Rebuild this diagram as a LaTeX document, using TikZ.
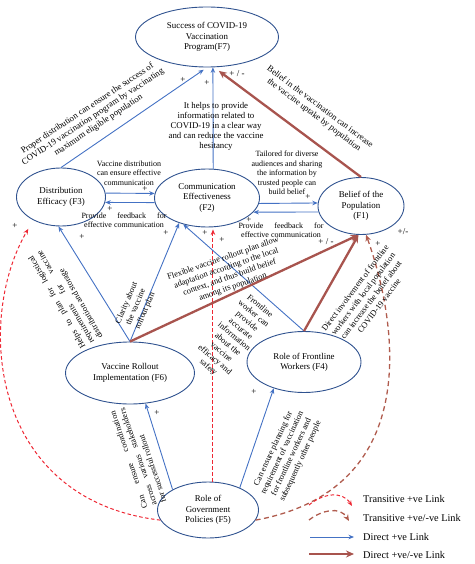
\documentclass[tikz,border=0pt]{standalone}
\usepackage{fontspec}
\setmainfont{Liberation Serif}
\usetikzlibrary{shapes.geometric,arrows.meta,calc}
\definecolor{nodeblue}{RGB}{47,82,143}
\definecolor{linkblue}{RGB}{68,114,196}
\definecolor{linkbrown}{RGB}{168,84,78}
\definecolor{linkred}{RGB}{238,40,52}
\definecolor{dashbrown}{RGB}{176,92,78}
\newcommand\jline[2]{\makebox[#1][s]{#2}}
\begin{document}
\begin{tikzpicture}[x=1pt,y=-1pt,
  fac/.style={ellipse, draw=nodeblue, line width=0.9pt, inner sep=0pt, align=center, font=\fontsize{8.9}{10.3}\selectfont},
  lbl/.style={align=center, inner sep=0pt, font=\fontsize{8.4}{10}\selectfont},
  lbll/.style={align=left, inner sep=0pt, font=\fontsize{8.4}{10}\selectfont},
  sgn/.style={inner sep=0pt, font=\fontsize{9}{10}\selectfont},
  lgd/.style={anchor=west, inner sep=0pt, font=\fontsize{10.3}{12}\selectfont},
  bluelink/.style={draw=linkblue, line width=0.9pt, -{Stealth[length=5.5pt,width=4.5pt]}},
  brownlink/.style={draw=linkbrown, line width=2.3pt, -{Stealth[length=8pt,width=7pt]}},
  reddash/.style={draw=linkred, line width=1pt, dash pattern=on 3.5pt off 2.5pt, -{Stealth[length=5.5pt,width=4.5pt]}},
  browndash/.style={draw=dashbrown, line width=1.3pt, dash pattern=on 5pt off 3.5pt, -{Stealth[length=6.5pt,width=5.5pt]}}
]
\useasboundingbox (0,0) rectangle (474,564);

% factors
\node[fac, minimum width=143pt, minimum height=60pt] (F7) at (207,37) {Success of COVID-19\\Vaccination\\Program(F7)};
\node[fac, minimum width=89pt, minimum height=58pt] (F3) at (61,197) {Distribution\\Efficacy (F3)};
\node[fac, minimum width=105pt, minimum height=58pt] (F2) at (207,198) {Communication\\Effectiveness\\(F2)};
\node[fac, minimum width=86pt, minimum height=57pt] (F1) at (361,206) {Belief of the\\Population\\(F1)};
\node[fac, minimum width=129pt, minimum height=62pt] (F6) at (130,373) {Vaccine Rollout\\Implementation (F6)};
\node[fac, minimum width=114pt, minimum height=61pt] (F4) at (304,362) {Role of Frontline\\Workers (F4)};
\node[fac, minimum width=101pt, minimum height=56pt] (F5) at (208,510) {Role of\\Government\\Policies (F5)};

% transitive links
\draw[reddash, shorten >=10pt] (F5.192) .. controls (-10,500) and (-25,320) .. (F3.-140);
\draw[browndash] (F5.-12) .. controls (420,490) and (400,330) .. (F1.-80);
\draw[reddash, shorten >=2pt] (F5.80) -- (F5.80 |- F2.south);

% direct links
\draw[bluelink, shorten >=4pt] (F3.north) -- (F7.south);
\draw[bluelink] (F2.78) -- (F7.-79);
\draw[brownlink, shorten >=6pt] (F1.north) -- (F7.-77);
\draw[bluelink] (F3.5) -- (F2.175);
\draw[bluelink] (F2.185) -- (F3.-7);
\draw[bluelink] (F2.-6) -- (F1.176);
\draw[bluelink] (F1.188) -- (F2.-17);
\draw[bluelink] (F6.north) -- (F3.-95);
\draw[bluelink] (F6.north) -- (F2.222);
\draw[bluelink] (F4.north) -- (F2.228);
\draw[brownlink] (F6.north) -- (F1.-95);
\draw[brownlink] (F4.north) -- (F1.-95);
\draw[bluelink] (F5.150) -- (F6.-63);
\draw[bluelink] (F5.35) -- (F4.221);

% link labels
\node[lbl, rotate=33.5, font=\fontsize{8.8}{10}\selectfont] (t1) at (93,117) {Proper distribution can ensure the success of\\COVID-19 vaccination program by vaccinating\\maximum eligible population};
\node[lbl, font=\fontsize{8.8}{10}\selectfont] (t2) at (216,126) {It helps to provide\\information related to\\COVID-19 in a clear way\\and can reduce the vaccine\\hesitancy};
\node[lbl, rotate=-37, font=\fontsize{8.7}{10}\selectfont] (t3) at (317,111) {Belief in the vaccination can increase\\the vaccine uptake by population};
\node[lbl, font=\fontsize{8}{9.4}\selectfont] (t4) at (129,173) {Vaccine distribution\\can ensure effective\\communication};
\node[lbl, font=\fontsize{8}{9.4}\selectfont] (t5) at (124,220) {\jline{85pt}{Provide feedback for}\\effective communication};
\node[lbl, font=\fontsize{8}{9.6}\selectfont] (t6) at (287,173) {Tailored for diverse\\audiences and sharing\\the information by\\trusted people can\\build belief};
\node[lbl, font=\fontsize{8}{9.4}\selectfont] (t7) at (281,230) {\jline{85pt}{Provide feedback for}\\effective communication};
\node[lbll, rotate=120] (t8) at (66,297) {\jline{106pt}{Helps to plan for logistical}\\\jline{106pt}{requirements for vaccine}\\distribution and storage};
\node[lbl, rotate=66.7] (t9) at (136,307) {Clarity about\\the vaccine\\rollout plan};
\node[lbl, rotate=-40] (t10) at (234,337) {Frontline\\worker can\\provide\\accurate\\information\\about the\\vaccine\\efficacy and\\safety};
\node[lbl, rotate=19] (t11) at (228,273) {Flexible vaccine rollout plan allow\\adaptation according to the local\\context, and thus build belief\\among its population};
\node[lbl, rotate=53] (t12) at (367,297) {Direct involvement of frontline\\workers with local population\\can increase the belief about\\COVID-19 vaccine};
\node[lbll, rotate=108.6] (t13) at (138,457) {\jline{102pt}{Can ensure coordination}\\\jline{102pt}{across various stakeholders}\\for successful rollout};
\node[lbl, rotate=65] (t14) at (287,455) {Can ensure planning for\\requirement of vaccination\\for frontline workers and\\subsequently other people};

% signs
\node[sgn] (s1) at (183,80) {+};
\node[sgn] (s2) at (207,83) {+};
\node[sgn] (s3) at (237,74) {+ / -};
\node[sgn] (s4) at (145,189) {+};
\node[sgn] (s5) at (110,209) {+};
\node[sgn] (s6) at (308,197) {+};
\node[sgn] (s7) at (249,220) {+};
\node[sgn] (s8) at (15,226) {+};
\node[sgn] (s9) at (82,237) {+};
\node[sgn] (s10) at (166,233) {+};
\node[sgn] (s11) at (205,233) {+};
\node[sgn] (s12) at (222,240) {+};
\node[sgn] (s13) at (326,242) {+ / -};
\node[sgn] (s14) at (378,244) {+};
\node[sgn] (s15) at (403,232) {+/-};
\node[sgn] (s16) at (157,413) {+};
\node[sgn] (s17) at (254,392) {+};

% legend
\coordinate (l1a) at (309,505); \coordinate (l1b) at (352,506);
\coordinate (l2a) at (309,520); \coordinate (l2b) at (349,521);
\coordinate (l3a) at (310,537); \coordinate (l3b) at (354,537);
\coordinate (l4a) at (309,554); \coordinate (l4b) at (354,554);
\draw[reddash] (l1a) .. controls (322,494) and (342,490) .. (l1b);
\draw[browndash] (l2a) .. controls (322,510) and (340,506) .. (l2b);
\draw[bluelink] (l3a) -- (l3b);
\draw[brownlink] (l4a) -- (l4b);
\node[lgd] (g1) at (363,499) {Transitive +ve Link};
\node[lgd] (g2) at (363,518) {Transitive +ve/-ve Link};
\node[lgd] (g3) at (363,537) {Direct +ve Link};
\node[lgd] (g4) at (363,555) {Direct +ve/-ve Link};
\end{tikzpicture}
\end{document}
